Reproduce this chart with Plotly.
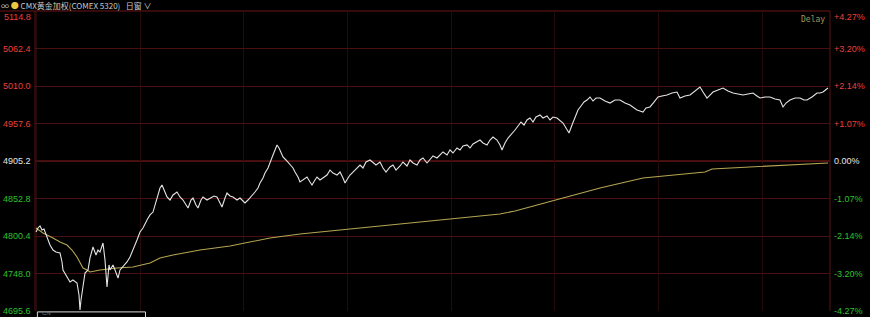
import plotly.graph_objects as go

# ---- data (minute index, price) ----
price_t = [1, 3, 5, 7, 9, 12, 15, 18, 21, 25, 27, 28, 31, 35, 38, 42, 44, 45, 46, 48, 50, 53, 55, 58, 61, 63, 65, 68, 70, 72, 74, 75, 78, 80, 83, 85, 88, 92, 95, 99, 102, 105, 108, 112, 115, 118, 120, 122, 125, 127, 130, 132, 135, 138, 142, 145, 148, 151, 153, 156, 158, 161, 163, 166, 168, 172, 175, 179, 182, 185, 187, 190, 192, 195, 198, 202, 205, 208, 210, 213, 215, 218, 220, 223, 225, 228, 230, 233, 235, 238, 240, 242, 244, 246, 248, 251, 255, 258, 260, 263, 265, 268, 272, 275, 277, 280, 282, 285, 288, 292, 295, 298, 302, 305, 308, 310, 313, 315, 318, 322, 325, 328, 331, 335, 338, 341, 345, 348, 351, 355, 358, 361, 365, 368, 372, 375, 378, 382, 385, 388, 392, 395, 398, 402, 405, 408, 412, 415, 418, 422, 425, 428, 432, 435, 438, 442, 445, 448, 452, 455, 458, 462, 465, 467, 470, 473, 477, 480, 483, 486, 489, 492, 495, 498, 501, 505, 508, 512, 515, 518, 522, 525, 528, 531, 534, 537, 540, 543, 546, 549, 552, 555, 558, 561, 565, 570, 575, 580, 585, 590, 595, 599, 602, 605, 608, 611, 615, 619, 623, 627, 632, 637, 642, 645, 650, 655, 660, 665, 668, 672, 675, 678, 683, 688, 693, 698, 703, 708, 713, 718, 722, 725, 730, 735, 740, 745, 748, 751, 755, 760, 765, 769, 772, 777, 782, 785, 788, 791, 793]
price = [4806.0, 4811.6, 4814.4, 4808.8, 4810.2, 4799.0, 4787.8, 4780.8, 4778.0, 4776.7, 4764.1, 4752.9, 4745.9, 4736.1, 4738.9, 4734.7, 4718.0, 4697.0, 4711.0, 4731.9, 4748.7, 4752.9, 4769.7, 4785.0, 4773.9, 4780.8, 4778.0, 4790.6, 4766.9, 4729.1, 4759.9, 4752.9, 4759.9, 4752.9, 4741.7, 4752.9, 4757.1, 4764.1, 4771.1, 4783.6, 4794.8, 4806.0, 4811.6, 4822.8, 4829.8, 4833.9, 4843.7, 4854.9, 4867.5, 4871.7, 4860.5, 4854.9, 4850.7, 4857.7, 4861.9, 4854.9, 4850.7, 4843.7, 4839.5, 4850.7, 4853.5, 4843.7, 4839.5, 4850.7, 4854.9, 4850.7, 4853.5, 4856.3, 4854.9, 4846.5, 4840.9, 4853.5, 4860.5, 4856.3, 4854.9, 4850.7, 4853.5, 4849.3, 4846.5, 4850.7, 4853.5, 4857.7, 4861.9, 4867.5, 4874.5, 4881.4, 4888.4, 4895.4, 4903.8, 4913.6, 4920.6, 4927.6, 4923.4, 4917.8, 4910.8, 4906.6, 4899.6, 4895.4, 4889.8, 4882.8, 4875.9, 4878.7, 4882.8, 4875.9, 4871.7, 4878.7, 4882.8, 4878.7, 4881.4, 4885.6, 4892.6, 4888.4, 4885.6, 4889.8, 4881.4, 4874.5, 4881.4, 4885.6, 4889.8, 4895.4, 4899.6, 4895.4, 4903.8, 4906.6, 4902.4, 4899.6, 4903.8, 4895.4, 4889.8, 4896.8, 4899.6, 4892.6, 4898.2, 4903.8, 4898.2, 4906.6, 4902.4, 4899.6, 4906.6, 4909.4, 4902.4, 4906.6, 4912.2, 4909.4, 4913.6, 4917.8, 4913.6, 4920.6, 4916.4, 4923.4, 4920.6, 4926.2, 4927.6, 4923.4, 4929.0, 4931.8, 4934.5, 4930.4, 4927.6, 4934.5, 4938.7, 4934.5, 4927.6, 4920.6, 4930.4, 4937.3, 4942.9, 4948.5, 4954.1, 4959.7, 4955.5, 4962.5, 4965.3, 4959.7, 4966.7, 4969.5, 4965.3, 4968.1, 4962.5, 4966.7, 4965.3, 4961.1, 4958.3, 4951.3, 4944.3, 4955.5, 4965.3, 4976.5, 4982.1, 4987.6, 4990.4, 4994.6, 4989.0, 4993.2, 4993.2, 4989.0, 4986.2, 4990.4, 4990.4, 4986.2, 4983.5, 4979.3, 4976.5, 4975.1, 4973.7, 4979.3, 4980.7, 4987.6, 4994.6, 4996.0, 4997.4, 5000.2, 5001.6, 4993.2, 4996.0, 4997.4, 5003.0, 5008.6, 5001.6, 4993.2, 4997.4, 5001.6, 5004.4, 5007.2, 5003.0, 5000.2, 4998.8, 4997.4, 4998.8, 5000.2, 4996.0, 4993.2, 4994.6, 4994.6, 4991.8, 4990.4, 4980.7, 4986.2, 4990.4, 4993.2, 4993.2, 4990.4, 4990.4, 4994.6, 5000.2, 5000.2, 5001.6, 5004.4, 5007.2]

avg_t = [1, 8, 18, 25, 32, 37, 42, 45, 48, 52, 55, 60, 65, 82, 98, 115, 125, 138, 165, 195, 215, 235, 265, 315, 365, 415, 465, 480, 495, 515, 545, 565, 608, 645, 670, 677, 715, 765, 793]
avg = [4811.6, 4804.6, 4797.6, 4792.0, 4787.8, 4780.8, 4771.1, 4762.7, 4755.7, 4752.9, 4750.1, 4751.5, 4752.9, 4755.7, 4757.1, 4762.7, 4769.7, 4773.9, 4780.8, 4786.4, 4792.0, 4797.6, 4803.2, 4810.2, 4817.2, 4824.2, 4831.1, 4835.3, 4840.9, 4849.3, 4860.5, 4867.5, 4881.4, 4887.0, 4889.8, 4894.0, 4896.8, 4899.6, 4902.4]

price_levels = [5114.8, 5062.4, 5010.0, 4957.6, 4905.2, 4852.8, 4800.4, 4748.0, 4695.6]
left_labels = ["5114.8", "5062.4", "5010.0", "4957.6", "4905.2", "4852.8", "4800.4", "4748.0", "4695.6"]
right_labels = ["+4.27%", "+3.20%", "+2.14%", "+1.07%", "0.00%", "-1.07%", "-2.14%", "-3.20%", "-4.27%"]
base_price = 4905.2

RED = "#e8413c"
GREEN = "#2ec22e"
WHITE = "#e6e6e6"

fig = go.Figure()
fig.add_trace(go.Scatter(x=avg_t, y=avg, mode="lines",
                         line=dict(color="#b5a552", width=1.1), hoverinfo="skip"))
fig.add_trace(go.Scatter(x=price_t, y=price, mode="lines",
                         line=dict(color="#e4e4e4", width=1.1), hoverinfo="skip"))

def lab_color(v):
    if v > base_price:
        return RED
    if v < base_price:
        return GREEN
    return WHITE

anns = []
for i, (v, l, r) in enumerate(zip(price_levels, left_labels, right_labels)):
    c = lab_color(v)
    yshift = -6 if i == 0 else 0
    anns.append(dict(x=0, xref="paper", y=v, yref="y", text=l, showarrow=False,
                     xanchor="right", yanchor="middle", xshift=-2, yshift=yshift,
                     font=dict(family="Liberation Sans", size=9, color=c)))
    anns.append(dict(x=1, xref="paper", y=v, yref="y", text=r, showarrow=False,
                     xanchor="left", yanchor="middle", xshift=2, yshift=yshift,
                     font=dict(family="Liberation Sans", size=9, color=c)))

anns.append(dict(x=0, xref="paper", y=1, yref="paper", yshift=6, xshift=-35,
                 text="∞ <span style='color:#e8c840'>●</span> CMX黄金加权(COMEX 5320)   日窗 ∨",
                 showarrow=False, xanchor="left", yanchor="middle", borderpad=0,
                 font=dict(family="Noto Sans CJK SC", size=8, color="#c8c8c8")))
anns.append(dict(x=1, xref="paper", y=1, yref="paper", xshift=-3, yshift=-2,
                 text="Delay", showarrow=False, xanchor="right", yanchor="top",
                 font=dict(family="DejaVu Sans Mono", size=8, color="#9c9a58")))
anns.append(dict(x=0, xref="paper", y=0, yref="paper", xshift=6, yshift=-6,
                 text="CN", showarrow=False, xanchor="left", yanchor="bottom", borderpad=0,
                 font=dict(family="Liberation Sans", size=6, color="#777777")))

shapes = [
    dict(type="line", xref="paper", x0=0, x1=1, yref="y", y0=base_price, y1=base_price,
         line=dict(color="#8c1c1c", width=1.2), layer="below"),
    dict(type="line", xref="paper", x0=-0.045, x1=1.0, yref="paper", y0=1, y1=1,
         line=dict(color="#6e1616", width=1.2), layer="below"),
    dict(type="line", xref="paper", x0=0, x1=0, yref="paper", y0=0, y1=1,
         line=dict(color="#5a1414", width=1), layer="below"),
    dict(type="line", xref="paper", x0=1, x1=1, yref="paper", y0=0, y1=1,
         line=dict(color="#5a1414", width=1), layer="below"),
    dict(type="rect", xref="paper", x0=0.003, x1=0.139, yref="paper", y0=-0.003, y1=-0.05,
         line=dict(color="#d8d8d8", width=1), fillcolor="rgba(0,0,0,0)"),
]

vgrid = [1.3 + 103.7 * k for k in range(8)]

fig.update_layout(
    width=870, height=317,
    margin=dict(l=35, r=40, t=11, b=6),
    paper_bgcolor="#000000", plot_bgcolor="#000000",
    showlegend=False,
    xaxis=dict(range=[0, 795], tickvals=vgrid, showticklabels=False,
               showgrid=True, gridcolor="#240a0a", gridwidth=1,
               zeroline=False, showline=False, fixedrange=True),
    yaxis=dict(range=[price_levels[-1], price_levels[0]], tickvals=price_levels,
               showticklabels=False, showgrid=True, gridcolor="#4a1010", gridwidth=1,
               zeroline=False, showline=False, fixedrange=True),
    annotations=anns,
    shapes=shapes,
)

fig.write_html("out.html")
